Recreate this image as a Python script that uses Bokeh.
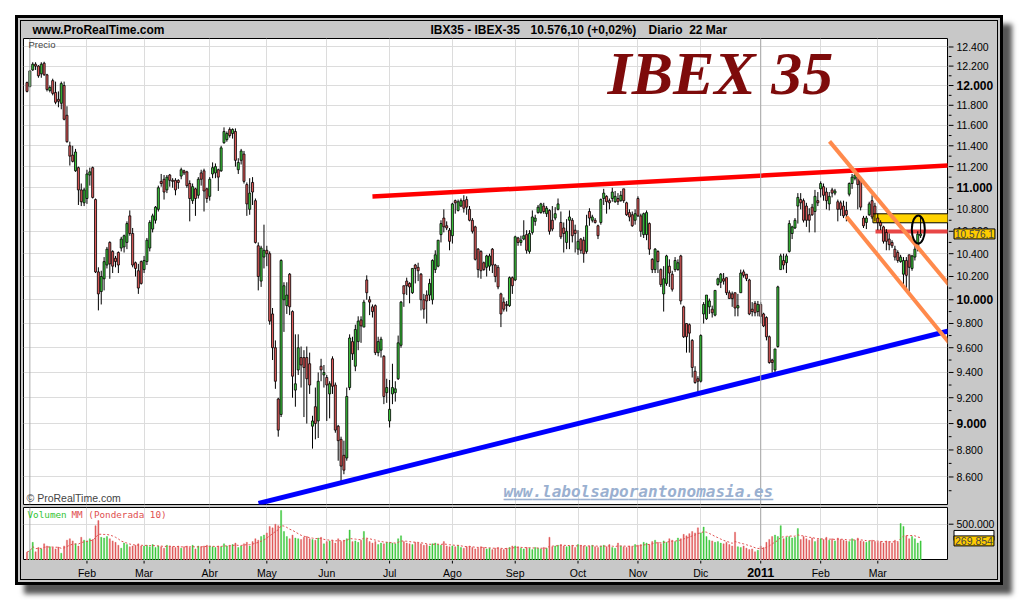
import numpy as np
from bokeh.plotting import figure
from bokeh.layouts import column, row
from bokeh.models import ColumnDataSource, FixedTicker, Label, Span, Range1d
from bokeh.core.properties import value
from bokeh.embed import file_html
from bokeh.resources import INLINE

# ---------------- data ----------------
month_ticks = [21, 41, 64, 84, 105, 127, 149, 171, 193, 214, 236, 257, 278, 298]
month_labels = ["Feb", "Mar", "Abr", "May", "Jun", "Jul", "Ago", "Sep", "Oct", "Nov", "Dic", "2011", "Feb", "Mar"]
year_lines = [1, 257]
price_ticks = list(range(8600, 12401, 200))
price_minor = list(range(8500, 12500, 200))
volume_ticks = [500]

opens = [
    12030, 11990, 12160, 12220, 12200, 12120, 12230, 12110, 11950, 12050,
    11930, 11860, 11820, 12000, 11700, 11400, 11310, 11160, 11190, 10980,
    10860, 10900, 11120, 11190, 10890, 10240, 10070, 10180, 10300, 10500,
    10420, 10360, 10410, 10450, 10460, 10500, 10740, 10580, 10320, 10250,
    10330, 10260, 10330, 10450, 10620, 10700, 10800, 11060, 11080, 10980,
    11120, 11070, 11070, 11070, 11110, 11160, 11150, 11040, 10880, 10990,
    10930, 11140, 11160, 10990, 10920, 11130, 11140, 11170, 11160, 11430,
    11460, 11560, 11520, 11540, 11170, 11260, 11320, 11030, 10800, 11050,
    10880, 10470, 10160, 10370, 10430, 10400, 9880, 9600, 9190, 9070,
    10000, 9950, 10220, 9900, 9260, 9420, 9520, 9520, 9520, 9470,
    8980, 9130, 9020, 9450, 9380, 9360, 9230, 9510, 9300, 8980,
    8880, 8760, 8740, 9280, 9650, 9450, 9650, 9830, 9770, 10170,
    10000, 9940, 9950, 9560, 9580, 9530, 9240, 9020, 9230, 9240,
    9350, 9620, 10120, 10160, 10140, 10060, 10300, 10280, 10220, 10000,
    10040, 10040, 10000, 10260, 10290, 10570, 10720, 10650, 10610, 10560,
    10880, 10790, 10830, 10880, 10890, 10800, 10700, 10640, 10440, 10420,
    10320, 10280, 10290, 10440, 10300, 10280, 10050, 9980, 9960, 9950,
    10190, 10170, 10540, 10500, 10530, 10570, 10420, 10590, 10690, 10770,
    10770, 10830, 10760, 10790, 10700, 10720, 10800, 10680, 10630, 10500,
    10700, 10700, 10610, 10440, 10530, 10520, 10420, 10780, 10700, 10700,
    10650, 10680, 10900, 10920, 10880, 10900, 10870, 10900, 10880, 10990,
    10860, 10770, 10750, 10700, 10900, 10740, 10570, 10570, 10670, 10350,
    10260, 10420, 10260, 10050, 10140, 10290, 10220, 10260, 10260, 10380,
    9940, 9800, 9790, 9660, 9410, 9350, 9330, 9880, 9840, 9940,
    9920, 9870, 10130, 10150, 10180, 10190, 10060, 10050, 10060, 9930,
    10060, 10240, 10220, 10170, 9920, 9970, 9900, 9960, 9880, 9850,
    9690, 9500, 9420, 9610, 10260, 10340, 10320, 10420, 10580, 10630,
    10830, 10890, 10880, 10830, 10750, 10820, 10780, 10880, 10990, 11010,
    10960, 10850, 10980, 10950, 10870, 10860, 10830, 10790, 10940, 11040,
    11090, 11100, 11070, 10720, 10680, 10750, 10880, 10830, 10720, 10680,
    10640, 10590, 10530, 10500, 10440, 10410, 10330, 10220, 10340, 10390,
    10270, 10370, 10450, 10560]
highs = [
    12040, 12160, 12240, 12240, 12210, 12240, 12245, 12120, 12000, 12070,
    12040, 11940, 12040, 12040, 11790, 11440, 11400, 11370, 11200, 11040,
    11000, 11170, 11190, 11200, 10900, 10280, 10250, 10370, 10460, 10510,
    10430, 10380, 10420, 10550, 10570, 10690, 10790, 10630, 10330, 10310,
    10340, 10380, 10540, 10700, 10760, 10830, 11020, 11130, 11120, 11120,
    11130, 11090, 11090, 11080, 11190, 11170, 11160, 11070, 11040, 11000,
    11100, 11170, 11180, 11000, 11100, 11240, 11230, 11180, 11400, 11580,
    11540, 11580, 11570, 11570, 11280, 11370, 11350, 11050, 11090, 11100,
    10900, 10500, 10470, 10660, 10470, 10420, 9930, 9660, 9200, 10350,
    10150, 10150, 10230, 9910, 9710, 9710, 9610, 9580, 9610, 9560,
    9060, 9280, 9400, 9510, 9460, 9380, 9330, 9530, 9320, 8990,
    8900, 8870, 9280, 9710, 9690, 9790, 9860, 9860, 10000, 10210,
    10030, 9960, 9960, 9690, 9690, 9540, 9350, 9340, 9470, 9330,
    9700, 9990, 10120, 10190, 10150, 10270, 10310, 10320, 10230, 10050,
    10080, 10180, 10350, 10430, 10520, 10700, 10800, 10690, 10630, 10860,
    10890, 10890, 10900, 10930, 10920, 10830, 10720, 10650, 10450, 10430,
    10330, 10390, 10400, 10450, 10310, 10300, 10060, 10020, 9990, 10200,
    10200, 10560, 10550, 10560, 10700, 10610, 10610, 10790, 10750, 10840,
    10860, 10860, 10830, 10800, 10830, 10820, 10900, 10780, 10680, 10710,
    10790, 10720, 10660, 10610, 10540, 10550, 10750, 10810, 10750, 10720,
    10660, 10900, 10990, 10930, 10900, 11000, 10970, 10950, 10970, 10990,
    10870, 10800, 10780, 10800, 10920, 10760, 10770, 10790, 10680, 10360,
    10450, 10430, 10270, 10290, 10390, 10350, 10250, 10370, 10350, 10390,
    9950, 9800, 9800, 9670, 9450, 9370, 9710, 9980, 10040, 10010,
    9950, 10080, 10190, 10230, 10230, 10190, 10080, 10070, 10060, 10050,
    10260, 10260, 10220, 10180, 9980, 9990, 9990, 9980, 9890, 9860,
    9700, 9510, 9590, 10120, 10400, 10400, 10400, 10700, 10650, 10720,
    10950, 10950, 10900, 10860, 10810, 10850, 10980, 10960, 11060, 11040,
    11000, 10960, 11000, 10990, 10890, 10880, 10880, 10870, 11050, 11130,
    11140, 11110, 11090, 10740, 10740, 10870, 10930, 10860, 10760, 10700,
    10650, 10620, 10580, 10520, 10470, 10430, 10390, 10370, 10370, 10390,
    10390, 10470, 10600, 10730]
lows = [
    11930, 11980, 12150, 12160, 12080, 12080, 12100, 11940, 11930, 11900,
    11810, 11780, 11760, 11650, 11430, 11210, 11240, 11150, 10840, 10830,
    10830, 10850, 11020, 10900, 10230, 9910, 9960, 10080, 10270, 10180,
    10230, 10280, 10230, 10420, 10410, 10440, 10560, 10280, 10200, 10050,
    10130, 10230, 10300, 10420, 10590, 10670, 10780, 11010, 10890, 10950,
    11010, 11000, 10930, 10990, 11080, 11120, 11000, 10690, 10850, 10740,
    10900, 11020, 10780, 10860, 10880, 11090, 11090, 10970, 11150, 11420,
    11440, 11480, 11470, 11200, 11130, 11220, 11040, 10740, 10750, 10840,
    10490, 10080, 10110, 10270, 10290, 9790, 9500, 9270, 8900, 9050,
    9730, 9880, 9870, 9200, 9130, 9380, 9280, 9050, 9000, 9230,
    8810, 8880, 8890, 9330, 9280, 9020, 9040, 9230, 8930, 8720,
    8560, 8620, 8720, 9260, 9500, 9410, 9580, 9640, 9770, 10000,
    9870, 9850, 9540, 9530, 9520, 9150, 9160, 8970, 9150, 9170,
    9340, 9600, 9940, 10040, 9970, 10050, 10140, 10160, 9910, 9840,
    9800, 9990, 9960, 10230, 10280, 10500, 10590, 10610, 10430, 10490,
    10760, 10780, 10820, 10770, 10750, 10690, 10580, 10340, 10190, 10180,
    10250, 10200, 10250, 10230, 10150, 10090, 9770, 9900, 9900, 9940,
    10050, 10160, 10470, 10470, 10520, 10400, 10400, 10570, 10650, 10760,
    10760, 10760, 10730, 10570, 10600, 10700, 10790, 10530, 10410, 10440,
    10440, 10500, 10410, 10390, 10400, 10320, 10400, 10650, 10680, 10670,
    10530, 10660, 10840, 10760, 10800, 10870, 10860, 10840, 10870, 10860,
    10740, 10690, 10640, 10660, 10730, 10550, 10540, 10520, 10390, 10230,
    10230, 10230, 10110, 9900, 10120, 10110, 10070, 10240, 10250, 9960,
    9680, 9560, 9560, 9360, 9310, 9240, 9320, 9800, 9830, 9880,
    9850, 9860, 10120, 10100, 10130, 10040, 10010, 9940, 9860, 9860,
    10060, 10190, 10160, 9870, 9860, 9860, 9860, 9800, 9770, 9660,
    9470, 9400, 9390, 9600, 10260, 10260, 10230, 10410, 10530, 10620,
    10670, 10800, 10680, 10640, 10590, 10740, 10590, 10830, 10910, 10880,
    10800, 10790, 10910, 10930, 10690, 10740, 10720, 10690, 10920, 10990,
    11070, 10800, 10790, 10630, 10620, 10740, 10710, 10690, 10610, 10610,
    10490, 10430, 10430, 10450, 10340, 10320, 10320, 10110, 10090, 10070,
    10250, 10340, 10420, 10540]
closes = [
    11940, 12150, 12220, 12200, 12100, 12220, 12110, 11960, 11980, 11920,
    11830, 11840, 12020, 11660, 11440, 11300, 11250, 11340, 10980, 10870,
    10980, 11130, 11150, 10910, 10240, 10050, 10200, 10330, 10440, 10310,
    10290, 10330, 10300, 10530, 10560, 10670, 10580, 10300, 10270, 10100,
    10140, 10340, 10520, 10680, 10740, 10820, 11000, 11040, 10960, 11100,
    11070, 11060, 10980, 11050, 11170, 11140, 11020, 10900, 11010, 10900,
    11080, 11080, 10970, 10900, 11080, 11190, 11200, 11100, 11380, 11540,
    11520, 11500, 11560, 11260, 11240, 11350, 11060, 10850, 10950, 10960,
    10500, 10200, 10450, 10430, 10400, 9820, 9600, 9330, 8950, 10340,
    10120, 10040, 9940, 9370, 9310, 9600, 9460, 9440, 9350, 9300,
    9020, 9000, 9330, 9420, 9400, 9300, 9310, 9290, 8950, 8870,
    8680, 8650, 9210, 9680, 9550, 9750, 9820, 9780, 9980, 10060,
    9980, 9900, 9560, 9650, 9670, 9210, 9280, 9110, 9280, 9270,
    9640, 9980, 10050, 10120, 10110, 10270, 10270, 10250, 10000, 9920,
    9990, 10140, 10340, 10390, 10520, 10670, 10640, 10630, 10510, 10850,
    10860, 10870, 10880, 10810, 10820, 10700, 10600, 10350, 10260, 10250,
    10260, 10380, 10380, 10300, 10200, 10110, 9880, 9920, 9950, 10190,
    10120, 10550, 10500, 10520, 10560, 10430, 10580, 10730, 10720, 10820,
    10850, 10780, 10810, 10600, 10620, 10760, 10850, 10550, 10580, 10600,
    10730, 10560, 10580, 10510, 10430, 10400, 10650, 10720, 10730, 10680,
    10560, 10890, 10950, 10870, 10860, 10960, 10920, 10870, 10930, 10880,
    10750, 10730, 10650, 10760, 10740, 10600, 10760, 10770, 10440, 10260,
    10440, 10330, 10130, 10180, 10380, 10230, 10090, 10340, 10320, 9990,
    9690, 9690, 9720, 9440, 9320, 9330, 9700, 9960, 10040, 9990,
    9890, 10080, 10180, 10220, 10160, 10060, 10010, 10010, 9930, 9950,
    10230, 10210, 10180, 9880, 9900, 9890, 9960, 9860, 9780, 9690,
    9480, 9480, 9590, 10110, 10380, 10300, 10380, 10670, 10640, 10700,
    10910, 10860, 10700, 10700, 10700, 10750, 10920, 10860, 11040, 10930,
    10880, 10920, 10950, 10970, 10800, 10800, 10740, 10750, 11040, 11100,
    11120, 11030, 10820, 10650, 10720, 10850, 10730, 10760, 10680, 10650,
    10510, 10510, 10480, 10470, 10370, 10340, 10370, 10340, 10210, 10280,
    10380, 10440, 10574, 10576.1]

# volume in thousands, one list per month
vol_jan10 = [115, 140, 250, 120, 180, 160, 230, 200, 190, 180, 160, 185, 100, 200, 280, 300, 270, 230, 200, 320, 280]
vol_feb10 = [270, 300, 290, 480, 550, 320, 310, 330, 300, 270, 250, 210, 170, 240, 220, 190, 200, 210, 230, 200]
vol_mar10 = [200, 210, 190, 220, 180, 200, 190, 170, 210, 200, 190, 180, 200, 170, 190, 200, 180, 210, 160, 200, 190, 200, 210]
vol_apr10 = [200, 190, 180, 200, 190, 230, 200, 210, 220, 240, 180, 200, 230, 250, 200, 260, 300, 280, 330, 350]
vol_may10 = [380, 470, 450, 500, 480, 690, 400, 330, 300, 350, 310, 300, 290, 320, 330, 300, 290, 280, 310, 320, 230]
vol_jun10 = [260, 270, 280, 240, 300, 260, 280, 300, 420, 260, 270, 250, 280, 400, 300, 260, 240, 260, 220, 240, 230, 250]
vol_jul10 = [250, 240, 230, 300, 340, 260, 240, 230, 220, 250, 240, 230, 210, 220, 200, 230, 240, 220, 210, 260, 200, 190]
vol_aug10 = [200, 190, 210, 180, 170, 190, 200, 180, 160, 170, 190, 180, 160, 170, 150, 170, 180, 160, 150, 170, 180, 200]
vol_sep10 = [200, 190, 170, 160, 180, 170, 150, 180, 170, 160, 180, 170, 320, 190, 200, 210, 220, 200, 190, 200, 210, 180]
vol_oct10 = [220, 210, 200, 190, 200, 210, 190, 180, 200, 210, 190, 220, 180, 170, 240, 200, 190, 180, 200, 190, 220]
vol_nov10 = [210, 220, 250, 240, 220, 260, 280, 250, 230, 270, 250, 300, 280, 260, 310, 300, 360, 340, 370, 400, 380, 450]
vol_dec10 = [380, 460, 330, 280, 270, 250, 260, 240, 230, 250, 220, 200, 390, 190, 180, 200, 170, 150, 160, 120, 140]
vol_jan11 = [200, 180, 250, 290, 330, 350, 330, 480, 300, 320, 330, 310, 320, 440, 290, 330, 300, 280, 310, 260, 290]
vol_feb11 = [300, 290, 320, 280, 300, 270, 310, 290, 280, 270, 260, 300, 280, 310, 270, 260, 250, 270, 280, 260]
vol_mar11 = [250, 260, 240, 270, 260, 240, 280, 250, 510, 470, 340, 300, 330, 300, 240, 269.854]

# drawn studies (trend lines, zones) in index / price units
resist_x, resist_y = [121.0, 325.0], [10919, 11214]
support_x, support_y = [81.1, 325.0], [8409, 9751]
chan_up_x, chan_up_y = [281.1, 325.0], [11443, 10068]
chan_lo_x, chan_lo_y = [287.0, 325.0], [10735, 9583]
zone_left, zone_right, zone_bottom, zone_top = 296.3, 326.0, 10677, 10759
level_x, level_y = [297.2, 326.0], [10599, 10599]
mark_x, mark_y = 312.2, 10617
last_price_text = "10.576,1"
last_volume_text = "269.854"
header_left = "www.ProRealTime.com"
header_parts = ["IBX35 - IBEX-35", "10.576,10 (+0,02%)", "Diario\u00a0 22 Mar"]

# ---------------- build ----------------
volumes = (vol_jan10 + vol_feb10 + vol_mar10 + vol_apr10 + vol_may10 + vol_jun10 + vol_jul10 +
           vol_aug10 + vol_sep10 + vol_oct10 + vol_nov10 + vol_dec10 + vol_jan11 + vol_feb11 + vol_mar11)
N = len(closes)
assert len(opens) == N and len(highs) == N and len(lows) == N and len(volumes) == N

GREEN = "#3CC83C"
RED = "#E05A5A"
GRAY = "#C8C8C8"
GRID = "#DCDCDC"
FONT = "Liberation Sans"
FW, FH = 924, 466   # price frame
RW = 49             # right label panel
TOTW = 2 + FW + 1 + RW

idx = list(range(N))
colors = [GREEN if c >= o else RED for o, c in zip(opens, closes)]
src = ColumnDataSource(dict(
    x=idx, h=highs, l=lows,
    top=[max(o, c) for o, c in zip(opens, closes)],
    bot=[min(o, c) for o, c in zip(opens, closes)],
    color=colors, vol=volumes))

wma = []
for i in range(N):
    seg = volumes[max(0, i - 9):i + 1]
    w = list(range(1, len(seg) + 1))
    wma.append(sum(a * b for a, b in zip(seg, w)) / sum(w))

xr = Range1d(-1.23, 322.42)
yr_price = Range1d(8400.9, 12490)
yr_vol = Range1d(0, 730)


def bare(**kw):
    f = figure(output_backend="svg", toolbar_location=None, tools="",
               x_axis_location=None, y_axis_location=None,
               border_fill_color=GRAY, background_fill_color=GRAY, outline_line_color=None, **kw)
    f.xgrid.visible = False
    f.ygrid.visible = False
    return f


# ---- header strip ----
p0 = bare(frame_width=TOTW, frame_height=17, x_range=Range1d(0, TOTW), y_range=Range1d(0, 17),
          min_border_left=0, min_border_right=0, min_border_top=0, min_border_bottom=0)
p0.text(x=[9], y=[9], text=[header_left], text_font=value(FONT), text_font_style="bold",
        text_font_size="12px", text_baseline="middle", text_align="left", text_color="black")
p0.text(x=[407, 507, 625], y=[9, 9, 9], text=header_parts, text_font=value(FONT), text_font_style="bold",
        text_font_size="12px", text_baseline="middle", text_align="left", text_color="black")

# ---- price pane ----
p1 = figure(frame_width=FW, frame_height=FH, x_range=xr, y_range=yr_price,
            y_axis_type="log", y_axis_location=None, x_axis_location=None,
            output_backend="svg", toolbar_location=None, tools="",
            min_border_left=2, min_border_right=1, min_border_top=0, min_border_bottom=2,
            border_fill_color=GRAY, background_fill_color="white",
            outline_line_color="black", outline_line_width=1)
p1.xgrid.ticker = FixedTicker(ticks=month_ticks)
p1.xgrid.grid_line_color = GRID
p1.ygrid.ticker = FixedTicker(ticks=price_ticks)
p1.ygrid.grid_line_color = GRID

for yl in year_lines:
    p1.add_layout(Span(location=yl, dimension="height", line_color="#A8A8A8", line_width=1))

p1.quad(left=[zone_left], right=[zone_right], bottom=[zone_bottom], top=[zone_top],
        fill_color="#FFD200", line_color="black", line_width=1)
p1.line(level_x, level_y, line_color="#E84646", line_width=4)

p1.segment(x0="x", y0="l", x1="x", y1="h", source=src, line_color="black", line_width=1)
p1.vbar(x="x", bottom="bot", top="top", width=0.72, source=src,
        fill_color="color", line_color="black", line_width=0.8)

p1.line(resist_x, resist_y, line_color="#FF0000", line_width=4.5)
p1.line(support_x, support_y, line_color="#0000FF", line_width=5)
p1.line(chan_up_x, chan_up_y, line_color="#FF8A4C", line_width=4)
p1.line(chan_lo_x, chan_lo_y, line_color="#FF8A4C", line_width=4)
p1.ellipse(x=[mark_x], y=[mark_y], width=13, height=28, width_units="screen", height_units="screen",
           fill_alpha=0, line_color="black", line_width=2)

p1.add_layout(Label(x=5, y=FH - 6, x_units="screen", y_units="screen", text="Precio",
                    text_font=FONT, text_font_size="9.5px", text_baseline="middle"))
p1.add_layout(Label(x=584, y=432, x_units="screen", y_units="screen", text="IBEX 35",
                    text_font="Liberation Serif", text_font_style="bold italic", text_font_size="62px",
                    text_color="#7E0B0B", text_baseline="middle"))
p1.add_layout(Label(x=480, y=13.5, x_units="screen", y_units="screen", text="www.labolsaporantonomasia.es",
                    text_font="DejaVu Sans Mono", text_font_style="bold italic", text_font_size="16px",
                    text_color="#9AB0D0", text_baseline="middle"))
p1.add_layout(Label(x=480, y=13.5, x_units="screen", y_units="screen", text="_" * 28,
                    text_font="DejaVu Sans Mono", text_font_style="bold italic", text_font_size="16px",
                    text_color="#9AB0D0", text_baseline="middle"))
p1.add_layout(Label(x=3, y=7, x_units="screen", y_units="screen", text="\u00a9 ProRealTime.com",
                    text_font=FONT, text_font_size="10.5px", text_baseline="middle"))

# ---- price scale panel (shares the log price scale) ----
p1r = bare(frame_width=RW, frame_height=FH, x_range=Range1d(0, RW), y_range=yr_price, y_axis_type="log",
           min_border_left=0, min_border_right=0, min_border_top=0, min_border_bottom=2)
p1r.segment(x0=[0] * len(price_ticks), x1=[5] * len(price_ticks), y0=price_ticks, y1=price_ticks,
            line_color="black", line_width=1)
p1r.segment(x0=[0] * len(price_minor), x1=[3] * len(price_minor), y0=price_minor, y1=price_minor,
            line_color="black", line_width=1)
reg = [t for t in price_ticks if t % 1000]
bold = [t for t in price_ticks if t % 1000 == 0]
p1r.text(x=[8] * len(reg), y=reg, text=[f"{t // 1000}.{t % 1000:03d}" for t in reg],
         text_font=value(FONT), text_font_size="10.5px", text_baseline="middle", text_color="black")
p1r.text(x=[8] * len(bold), y=bold, text=[f"{t // 1000}.000" for t in bold],
         text_font=value(FONT), text_font_style="bold", text_font_size="12px",
         text_baseline="middle", text_color="black")
p1r.add_layout(Label(x=5.5, y=closes[-1], text=last_price_text, text_font=FONT, text_font_size="10px",
                     text_baseline="middle", background_fill_color="#FFCC00", border_line_color="black",
                     padding=1))

# ---- volume pane ----
p2 = figure(frame_width=FW, frame_height=53, x_range=xr, y_range=yr_vol,
            x_axis_location=None, y_axis_location=None,
            output_backend="svg", toolbar_location=None, tools="",
            min_border_left=2, min_border_right=1, min_border_top=1, min_border_bottom=0,
            border_fill_color=GRAY, background_fill_color="white",
            outline_line_color="black", outline_line_width=1)
p2.xgrid.ticker = FixedTicker(ticks=month_ticks)
p2.xgrid.grid_line_color = GRID
p2.ygrid.ticker = FixedTicker(ticks=volume_ticks)
p2.ygrid.grid_line_color = GRID
for yl in year_lines:
    p2.add_layout(Span(location=yl, dimension="height", line_color="#A8A8A8", line_width=1))

p2.vbar(x="x", top="vol", bottom=0, width=0.4, source=src, fill_color="color", line_color="color",
        line_width=0.4)
p2.line(idx, wma, line_color="#E05050", line_width=1, line_dash="2 2")
p2.add_layout(Label(x=4, y=46, x_units="screen", y_units="screen", text="Volumen",
                    text_font="DejaVu Sans Mono", text_font_size="9.3px", text_color="#33C433",
                    text_baseline="middle"))
p2.add_layout(Label(x=48, y=46, x_units="screen", y_units="screen", text="MM (Ponderada 10)",
                    text_font="DejaVu Sans Mono", text_font_size="9.3px", text_color="#E05050",
                    text_baseline="middle"))

p2r = bare(frame_width=RW, frame_height=53, x_range=Range1d(0, RW), y_range=yr_vol,
           min_border_left=0, min_border_right=0, min_border_top=1, min_border_bottom=0)
p2r.segment(x0=[0], x1=[5], y0=volume_ticks, y1=volume_ticks, line_color="black", line_width=1)
p2r.text(x=[8], y=volume_ticks, text=["500.000"], text_font=value(FONT), text_font_size="10.5px",
         text_baseline="middle", text_color="black")
p2r.add_layout(Label(x=5.5, y=345, text=last_volume_text, text_font=FONT, text_font_size="10.5px",
                     text_baseline="middle", text_color="white", background_fill_color="white",
                     border_line_color="black", padding=1))
p2r.add_layout(Label(x=5.5, y=volumes[-1], text=last_volume_text, text_font=FONT, text_font_size="10.5px",
                     text_baseline="middle", background_fill_color="#FFCC00", border_line_color="black",
                     padding=1))

# ---- date strip (shares the day-index scale) ----
p3 = bare(frame_width=FW, frame_height=19, x_range=xr, y_range=Range1d(0, 19),
          min_border_left=2, min_border_right=1 + RW, min_border_top=0, min_border_bottom=0)
p3.segment(x0=month_ticks, x1=month_ticks, y0=[19] * len(month_ticks), y1=[16] * len(month_ticks),
           line_color="black", line_width=1)
reg_m = [(t, m) for t, m in zip(month_ticks, month_labels) if m != "2011"]
p3.text(x=[t for t, _ in reg_m], y=[7] * len(reg_m), text=[m for _, m in reg_m], text_font=value(FONT),
        text_font_size="10.5px", text_align="center", text_baseline="middle", text_color="black")
p3.text(x=[t for t, m in zip(month_ticks, month_labels) if m == "2011"], y=[7], text=["2011"],
        text_font=value(FONT), text_font_style="bold", text_font_size="12.5px", text_align="center",
        text_baseline="middle", text_color="black")

inner = column(p0, row(p1, p1r, spacing=0), row(p2, p2r, spacing=0), p3, spacing=0,
               styles={"border": "1px solid #000"})
layout = column(inner, styles={"border": "3px solid #000", "padding": "2px", "background-color": GRAY,
                               "box-shadow": "9px 9px 5px #555555", "margin-left": "15px", "margin-top": "15px"})

open("out.html", "w").write(file_html(layout, INLINE))
